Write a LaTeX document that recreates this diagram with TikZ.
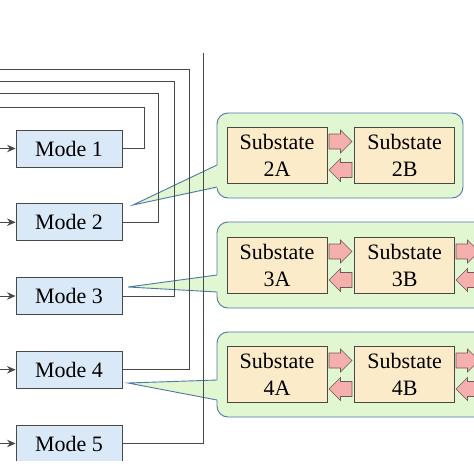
\documentclass[tikz,border=0pt]{standalone}
\usepackage{fontspec}
\setmainfont{Liberation Serif}
\usetikzlibrary{positioning,arrows.meta}

\definecolor{wirecol}{HTML}{484848}
\definecolor{modefill}{HTML}{DAE9F8}
\definecolor{bubfill}{HTML}{E0F7D2}
\definecolor{bubline}{HTML}{4F78A6}
\definecolor{subfill}{HTML}{FCEBC8}
\definecolor{arrfill}{HTML}{F5B0AE}
\definecolor{arrline}{HTML}{6E5A55}

\tikzset{
  fwd/.pic={\draw[arrline,fill=arrfill,line width=0.6pt]
    (-11.5,-7.5) -- (0,-7.5) -- (0,-11.5) -- (11.5,0) -- (0,11.5) -- (0,7.5) -- (-11.5,7.5) -- cycle;},
  back/.pic={\draw[arrline,fill=arrfill,line width=0.6pt]
    (11.5,-7.5) -- (0,-7.5) -- (0,-11.5) -- (-11.5,0) -- (0,11.5) -- (0,7.5) -- (11.5,7.5) -- cycle;}
}

\begin{document}
\begin{tikzpicture}[x=1pt,y=-1pt,node distance=73.75pt,>={Stealth[length=8.5pt,width=7.5pt]},
    wire/.style={draw=wirecol,line width=1pt},
    mode/.style={draw=wirecol,fill=modefill,line width=0.9pt,minimum width=106pt,
      minimum height=37pt,inner sep=0pt,font=\fontsize{22}{26}\selectfont},
    sub/.style={draw=wirecol,fill=subfill,line width=0.7pt,minimum width=100pt,
      minimum height=56pt,inner sep=0pt,align=center,font=\fontsize{22}{27}\selectfont},
    bubble/.style={draw=bubline,fill=bubfill,line width=0.9pt,rounded corners=11pt},
    beak/.style={draw=bubline,line width=0.9pt}]

  \useasboundingbox (0,0) rectangle (474,474);
  \fill[white] (0,0) rectangle (474,474);
  \clip (0,0) rectangle (474,460.5);

  % callouts
  \filldraw[bubble] (217,113) rectangle (463,198);
  \fill[bubfill] (133,205) -- (220,163.6) -- (220,187.7) -- cycle;
  \draw[beak] (217,165) -- (133,205) -- (217,187);

  \filldraw[bubble] (217,222) rectangle (495,308);
  \fill[bubfill] (128,287) -- (220,274.6) -- (220,292.2) -- cycle;
  \draw[beak] (217,275) -- (128,287) -- (217,292);

  \filldraw[bubble] (217,332) rectangle (495,417);
  \fill[bubfill] (128,383) -- (220,379.9) -- (220,400.6) -- cycle;
  \draw[beak] (217,380) -- (128,383) -- (217,400);

  % modes
  \node[mode] (m1) at (69,148.5) {Mode 1};
  \node[mode] (m2) [below of=m1] {Mode 2};
  \node[mode] (m3) [below of=m2] {Mode 3};
  \node[mode] (m4) [below of=m3] {Mode 4};
  \node[mode] (m5) [below of=m4] {Mode 5};

  \coordinate (t1) at (0,107);
  \coordinate (t2) at (0,93);
  \coordinate (t3) at (0,81);
  \coordinate (t4) at (0,69);
  \coordinate (t5) at (203,53);

  \foreach \i in {1,...,5} {
    \path (m\i.west) ++(-17,0) coordinate (in\i);
    \draw[wire,->] (in\i) -- (m\i.west);
  }

  \draw[wire] (m1.east) -- ++(22,0) |- (t1);
  \draw[wire] (m2.east) -- ++(36,0) |- (t2);
  \draw[wire] (m3.east) -- ++(52,0) |- (t3);
  \draw[wire] (m4.east) -- ++(67,0) |- (t4);
  \draw[wire] (m5.east) -| (t5);

  % substates
  \node[sub] (s2a) at (277,155) {Substate\\2A};
  \node[sub,right=27pt of s2a] (s2b) {Substate\\2B};
  \node[sub] (s3a) at (277,265.5) {Substate\\3A};
  \node[sub,right=27pt of s3a] (s3b) {Substate\\3B};
  \node[sub] (s4a) at (277,374.5) {Substate\\4A};
  \node[sub,right=27pt of s4a] (s4b) {Substate\\4B};

  \foreach \y in {127,237,346} {
    \pic at (340.5,\y+14.5) {fwd};
    \pic at (340.5,\y+43) {back};
  }
  \foreach \y in {237,346} {
    \pic at (467.5,\y+14.5) {fwd};
    \pic at (467.5,\y+43) {back};
  }
\end{tikzpicture}
\end{document}
